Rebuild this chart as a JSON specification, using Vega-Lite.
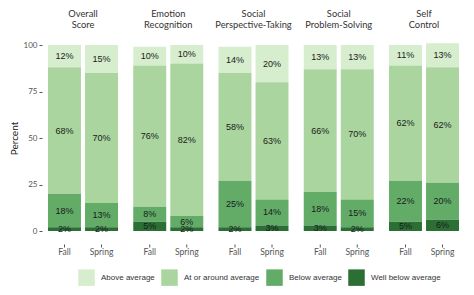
{
  "$schema": "https://vega.github.io/schema/vega-lite/v6.json",
  "background": "white",
  "padding": {"left": 9, "top": 10, "right": 5, "bottom": 2},
  "data": {
    "values": [
      {"domain": "Overall Score", "season": "Fall", "level": "Above average", "ord": 4, "value": 12, "label": "12%"},
      {"domain": "Overall Score", "season": "Fall", "level": "At or around average", "ord": 3, "value": 68, "label": "68%"},
      {"domain": "Overall Score", "season": "Fall", "level": "Below average", "ord": 2, "value": 18, "label": "18%"},
      {"domain": "Overall Score", "season": "Fall", "level": "Well below average", "ord": 1, "value": 2, "label": "2%"},
      {"domain": "Overall Score", "season": "Spring", "level": "Above average", "ord": 4, "value": 15, "label": "15%"},
      {"domain": "Overall Score", "season": "Spring", "level": "At or around average", "ord": 3, "value": 70, "label": "70%"},
      {"domain": "Overall Score", "season": "Spring", "level": "Below average", "ord": 2, "value": 13, "label": "13%"},
      {"domain": "Overall Score", "season": "Spring", "level": "Well below average", "ord": 1, "value": 2, "label": "2%"},
      {"domain": "Emotion Recognition", "season": "Fall", "level": "Above average", "ord": 4, "value": 10, "label": "10%"},
      {"domain": "Emotion Recognition", "season": "Fall", "level": "At or around average", "ord": 3, "value": 76, "label": "76%"},
      {"domain": "Emotion Recognition", "season": "Fall", "level": "Below average", "ord": 2, "value": 8, "label": "8%"},
      {"domain": "Emotion Recognition", "season": "Fall", "level": "Well below average", "ord": 1, "value": 5, "label": "5%"},
      {"domain": "Emotion Recognition", "season": "Spring", "level": "Above average", "ord": 4, "value": 10, "label": "10%"},
      {"domain": "Emotion Recognition", "season": "Spring", "level": "At or around average", "ord": 3, "value": 82, "label": "82%"},
      {"domain": "Emotion Recognition", "season": "Spring", "level": "Below average", "ord": 2, "value": 6, "label": "6%"},
      {"domain": "Emotion Recognition", "season": "Spring", "level": "Well below average", "ord": 1, "value": 2, "label": "2%"},
      {"domain": "Social Perspective-Taking", "season": "Fall", "level": "Above average", "ord": 4, "value": 14, "label": "14%"},
      {"domain": "Social Perspective-Taking", "season": "Fall", "level": "At or around average", "ord": 3, "value": 58, "label": "58%"},
      {"domain": "Social Perspective-Taking", "season": "Fall", "level": "Below average", "ord": 2, "value": 25, "label": "25%"},
      {"domain": "Social Perspective-Taking", "season": "Fall", "level": "Well below average", "ord": 1, "value": 2, "label": "2%"},
      {"domain": "Social Perspective-Taking", "season": "Spring", "level": "Above average", "ord": 4, "value": 20, "label": "20%"},
      {"domain": "Social Perspective-Taking", "season": "Spring", "level": "At or around average", "ord": 3, "value": 63, "label": "63%"},
      {"domain": "Social Perspective-Taking", "season": "Spring", "level": "Below average", "ord": 2, "value": 14, "label": "14%"},
      {"domain": "Social Perspective-Taking", "season": "Spring", "level": "Well below average", "ord": 1, "value": 3, "label": "3%"},
      {"domain": "Social Problem-Solving", "season": "Fall", "level": "Above average", "ord": 4, "value": 13, "label": "13%"},
      {"domain": "Social Problem-Solving", "season": "Fall", "level": "At or around average", "ord": 3, "value": 66, "label": "66%"},
      {"domain": "Social Problem-Solving", "season": "Fall", "level": "Below average", "ord": 2, "value": 18, "label": "18%"},
      {"domain": "Social Problem-Solving", "season": "Fall", "level": "Well below average", "ord": 1, "value": 3, "label": "3%"},
      {"domain": "Social Problem-Solving", "season": "Spring", "level": "Above average", "ord": 4, "value": 13, "label": "13%"},
      {"domain": "Social Problem-Solving", "season": "Spring", "level": "At or around average", "ord": 3, "value": 70, "label": "70%"},
      {"domain": "Social Problem-Solving", "season": "Spring", "level": "Below average", "ord": 2, "value": 15, "label": "15%"},
      {"domain": "Social Problem-Solving", "season": "Spring", "level": "Well below average", "ord": 1, "value": 2, "label": "2%"},
      {"domain": "Self Control", "season": "Fall", "level": "Above average", "ord": 4, "value": 11, "label": "11%"},
      {"domain": "Self Control", "season": "Fall", "level": "At or around average", "ord": 3, "value": 62, "label": "62%"},
      {"domain": "Self Control", "season": "Fall", "level": "Below average", "ord": 2, "value": 22, "label": "22%"},
      {"domain": "Self Control", "season": "Fall", "level": "Well below average", "ord": 1, "value": 5, "label": "5%"},
      {"domain": "Self Control", "season": "Spring", "level": "Above average", "ord": 4, "value": 13, "label": "13%"},
      {"domain": "Self Control", "season": "Spring", "level": "At or around average", "ord": 3, "value": 62, "label": "62%"},
      {"domain": "Self Control", "season": "Spring", "level": "Below average", "ord": 2, "value": 20, "label": "20%"},
      {"domain": "Self Control", "season": "Spring", "level": "Well below average", "ord": 1, "value": 6, "label": "6%"}
    ]
  },
  "facet": {
    "column": {
      "field": "domain",
      "type": "nominal",
      "sort": ["Overall Score", "Emotion Recognition", "Social Perspective-Taking", "Social Problem-Solving", "Self Control"],
      "header": {
        "title": null,
        "labelExpr": "split(datum.label, ' ')",
        "labelFont": "Lato",
        "labelFontSize": 9.3,
        "labelColor": "#333333",
        "labelPadding": 13,
        "labelLineHeight": 10.5
      }
    }
  },
  "spacing": 15.25,
  "spec": {
    "width": 70,
    "height": 186,
    "encoding": {
      "x": {
        "field": "season",
        "type": "nominal",
        "scale": {"paddingInner": 0.11, "paddingOuter": 0},
        "axis": {"title": null, "labelAngle": 0, "domain": false, "offset": 9, "tickSize": 3, "tickColor": "#555555", "labelColor": "#555555", "labelFontSize": 8.5, "labelFont": "Lato", "labelPadding": 0}
      },
      "y": {
        "field": "value",
        "type": "quantitative",
        "stack": "zero",
        "scale": {"domain": [0, 100], "nice": false},
        "axis": {"title": "Percent", "values": [0, 25, 50, 75, 100], "grid": false, "domain": false, "offset": 6, "tickSize": 3, "tickColor": "#555555", "labelColor": "#555555", "labelFontSize": 8, "labelFont": "Lato", "titleFont": "Lato", "titleFontSize": 10, "titleFontWeight": "normal", "titleColor": "#222222", "labelPadding": 2, "titlePadding": 4}
      },
      "order": {"field": "ord", "type": "quantitative", "sort": "ascending"}
    },
    "layer": [
      {
        "mark": {"type": "bar"},
        "encoding": {
          "color": {
            "field": "level",
            "type": "nominal",
            "sort": ["Above average", "At or around average", "Below average", "Well below average"],
            "scale": {
              "domain": ["Above average", "At or around average", "Below average", "Well below average"],
              "range": ["#d6eecd", "#abd59f", "#62ac68", "#2c6f35"]
            },
            "legend": {
              "title": null,
              "orient": "none",
              "legendX": 30,
              "legendY": 224,
              "direction": "horizontal",
              "symbolType": "square",
              "symbolSize": 272,
              "symbolStrokeWidth": 0,
              "symbolOpacity": 1,
              "labelFont": "Liberation Sans",
              "labelFontSize": 8,
              "labelColor": "#333333",
              "labelOffset": 6,
              "columnPadding": 6
            }
          }
        }
      },
      {
        "mark": {"type": "text", "font": "Liberation Sans", "fontSize": 9, "color": "#1a1a1a", "baseline": "middle"},
        "encoding": {
          "y": {"field": "value", "type": "quantitative", "stack": "zero", "bandPosition": 0.5},
          "detail": {"field": "level", "type": "nominal"},
          "text": {"field": "label", "type": "nominal"}
        }
      }
    ]
  },
  "config": {
    "view": {"stroke": null}
  }
}
